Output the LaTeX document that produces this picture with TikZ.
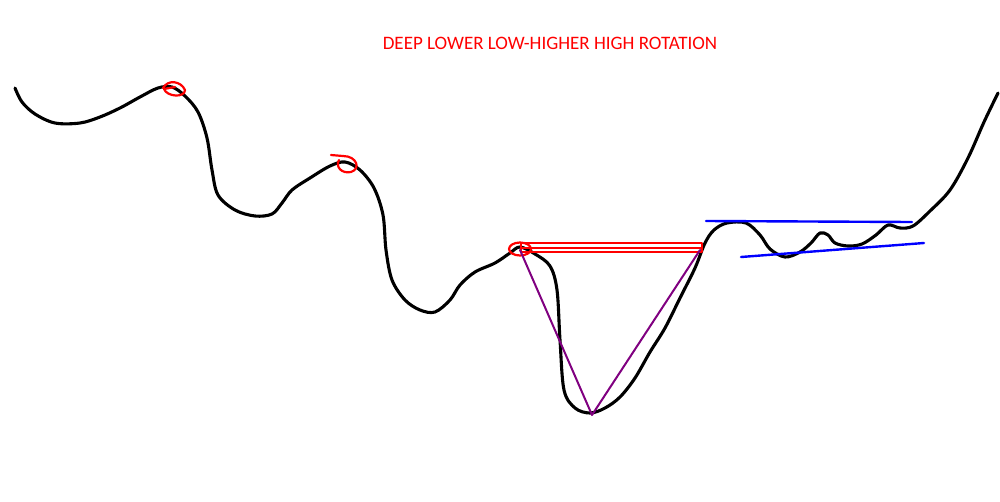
\documentclass[tikz,border=0pt]{standalone}
\usepackage{fontspec}
\setmainfont{Carlito}
\usepackage{tikz}
\definecolor{markred}{HTML}{FF0000}
\definecolor{tripurple}{HTML}{800080}
\definecolor{rangeblue}{HTML}{0000FF}

\begin{document}
\begin{tikzpicture}[x=1pt, y=-1pt, line cap=round, line join=round]

\useasboundingbox (0,0) rectangle (1000,501);

\tikzstyle{price}=[draw=black, line width=3.1pt]
\tikzstyle{redmark}=[draw=markred, line width=2.2pt]
\tikzstyle{triline}=[draw=tripurple, line width=2pt]
\tikzstyle{rangeline}=[draw=rangeblue, line width=2.4pt]

\node[text=markred, font=\fontsize{19}{22}\selectfont] (title) at (550,43) {DEEP LOWER LOW-HIGHER HIGH ROTATION};

% price path
\draw[price] plot[smooth, tension=0.55] coordinates {
  (15,88) (22,102) (35,114) (55,123) (80,123) (100,117) (120,108) (140,97)
  (158,88) (172,87) (185,96) (198,112) (207,138) (212,170) (218,195) (235,210)
  (255,216) (272,214) (282,203) (292,190) (310,178) (330,166) (345,162) (360,170)
  (374,188) (383,215) (386,250) (392,280) (405,300) (420,310) (435,312) (450,300)
  (460,285) (475,272) (495,263) (510,253) (520,247) (535,254) (550,266) (557,290)
  (560,340) (564,390) (575,408) (590,413) (605,408) (620,397) (635,378) (650,352)
  (665,328) (680,298) (695,268) (705,243) (714,230) (727,223) (746,223) (760,235)
  (770,249) (785,257) (800,252) (811,243) (820,233) (828,235) (835,243) (848,246)
  (862,244) (876,235) (888,225) (900,228) (913,226) (930,211) (950,190) (968,158)
  (984,122) (998,93)};

% swing highs
\draw[redmark] (163,88) .. controls (168,79) and (181,81) .. (185,90)
            .. controls (185,98) and (167,97) .. (164,89) -- (175,87);
\draw[redmark] (331,155) -- (343,156) .. controls (357,156) and (361,169) .. (351,172)
            .. controls (342,174) and (335,167) .. (339,160);
\draw[redmark] (520,249) ellipse (11pt and 6.5pt);

% neckline
\draw[redmark] (521,243) rectangle (702,252);
\draw[redmark] (521,248) -- (702,248);

% deep low
\coordinate (left) at (520,250);
\coordinate (bottom) at (592,415);
\coordinate (right) at (700,250);
\draw[triline] (left) -- (bottom) -- (right);

% range
\draw[rangeline] (706,221) -- (912,222);
\draw[rangeline] (741,257) -- (924,243);

\end{tikzpicture}
\end{document}
